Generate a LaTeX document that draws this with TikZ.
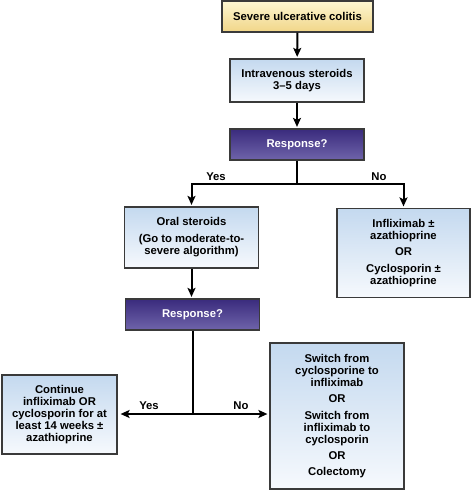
\documentclass[tikz,border=0pt]{standalone}
\usepackage{fontspec}
\setmainfont{Liberation Sans}
\usetikzlibrary{arrows.meta}
\definecolor{bordc}{HTML}{3A3A3A}
\definecolor{ytop}{HTML}{FDF6D2}
\definecolor{ybot}{HTML}{F1D688}
\definecolor{btop}{HTML}{C4D9EF}
\definecolor{bbot}{HTML}{F6F9FD}
\definecolor{ptop}{HTML}{3A2B7D}
\definecolor{pbot}{HTML}{6F64AA}
\begin{document}
\begin{tikzpicture}[x=1pt,y=-1pt,
  boxbase/.style={draw=bordc, line width=1.2pt, rectangle, align=center,
    font=\bfseries\fontsize{11.3}{12}\selectfont, inner sep=0pt},
  ybox/.style={boxbase, top color=ytop, bottom color=ybot},
  bbox/.style={boxbase, top color=btop, bottom color=bbot},
  pbox/.style={boxbase, top color=ptop, bottom color=pbot, text=white},
  conn/.style={line width=2pt, black},
  arr/.style={conn, -{Stealth[length=9pt,width=8pt,inset=2pt]}, shorten >=1.5pt},
  lab/.style={font=\bfseries\fontsize{11.3}{12}\selectfont, inner sep=0pt}
]
\useasboundingbox (0,0) rectangle (474,491);
\fill[white] (0,0) rectangle (474,491);

\node[ybox, minimum width=151pt, minimum height=31pt] (sev) at (297.5,16.5) {Severe ulcerative colitis};
\node[bbox, minimum width=134pt, minimum height=43pt] (iv) at (297,80.5) {Intravenous steroids\\3--5 days};
\node[pbox, minimum width=134pt, minimum height=31pt] (r1) at (297,144.5) {Response?};
\node[bbox, minimum width=134pt, minimum height=61pt] (oral) at (191.5,237.5) {Oral steroids\\[5pt](Go to moderate-to-\\severe algorithm)};
\node[bbox, minimum width=133pt, minimum height=89pt] (infl) at (403.5,253) {Infliximab \char"00B1\\azathioprine\\[4pt]OR\\[5pt]Cyclosporin \char"00B1\\azathioprine};
\node[pbox, minimum width=134pt, minimum height=31pt] (r2) at (192.5,314.5) {Response?};
\node[bbox, minimum width=115pt, minimum height=79pt] (cont) at (59.5,414.5) {Continue\\infliximab OR\\cyclosporin for at\\least 14 weeks \char"00B1\\azathioprine};
\node[bbox, minimum width=134pt, minimum height=146pt] (sw) at (337,416) {Switch from\\cyclosporine to\\infliximab\\[4pt]OR\\[5pt]Switch from\\infliximab to\\cyclosporin\\[4pt]OR\\[4pt]Colectomy};

\coordinate (j1) at (297,184);
\coordinate (j2) at (193,414);

\draw[arr] (sev) -- (iv);
\draw[arr] (iv) -- (r1);
\draw[conn] (r1.south) -- (j1);
\draw[arr] (j1) -| (oral.north);
\draw[arr] (j1) -| (infl.north);
\draw[arr] (oral) -- (r2.north -| oral.south);
\draw[conn] (r2.south -| j2) -- (j2);
\draw[arr, shorten >=3pt] (j2) -- (cont.east |- j2);
\draw[arr, shorten >=2pt] (j2) -- (sw.west |- j2);

\node[lab] (yes1) at (216,177) {Yes};
\node[lab] (no1) at (379,177) {No};
\node[lab] (yes2) at (149,406) {Yes};
\node[lab] (no2) at (241,406) {No};
\end{tikzpicture}
\end{document}
